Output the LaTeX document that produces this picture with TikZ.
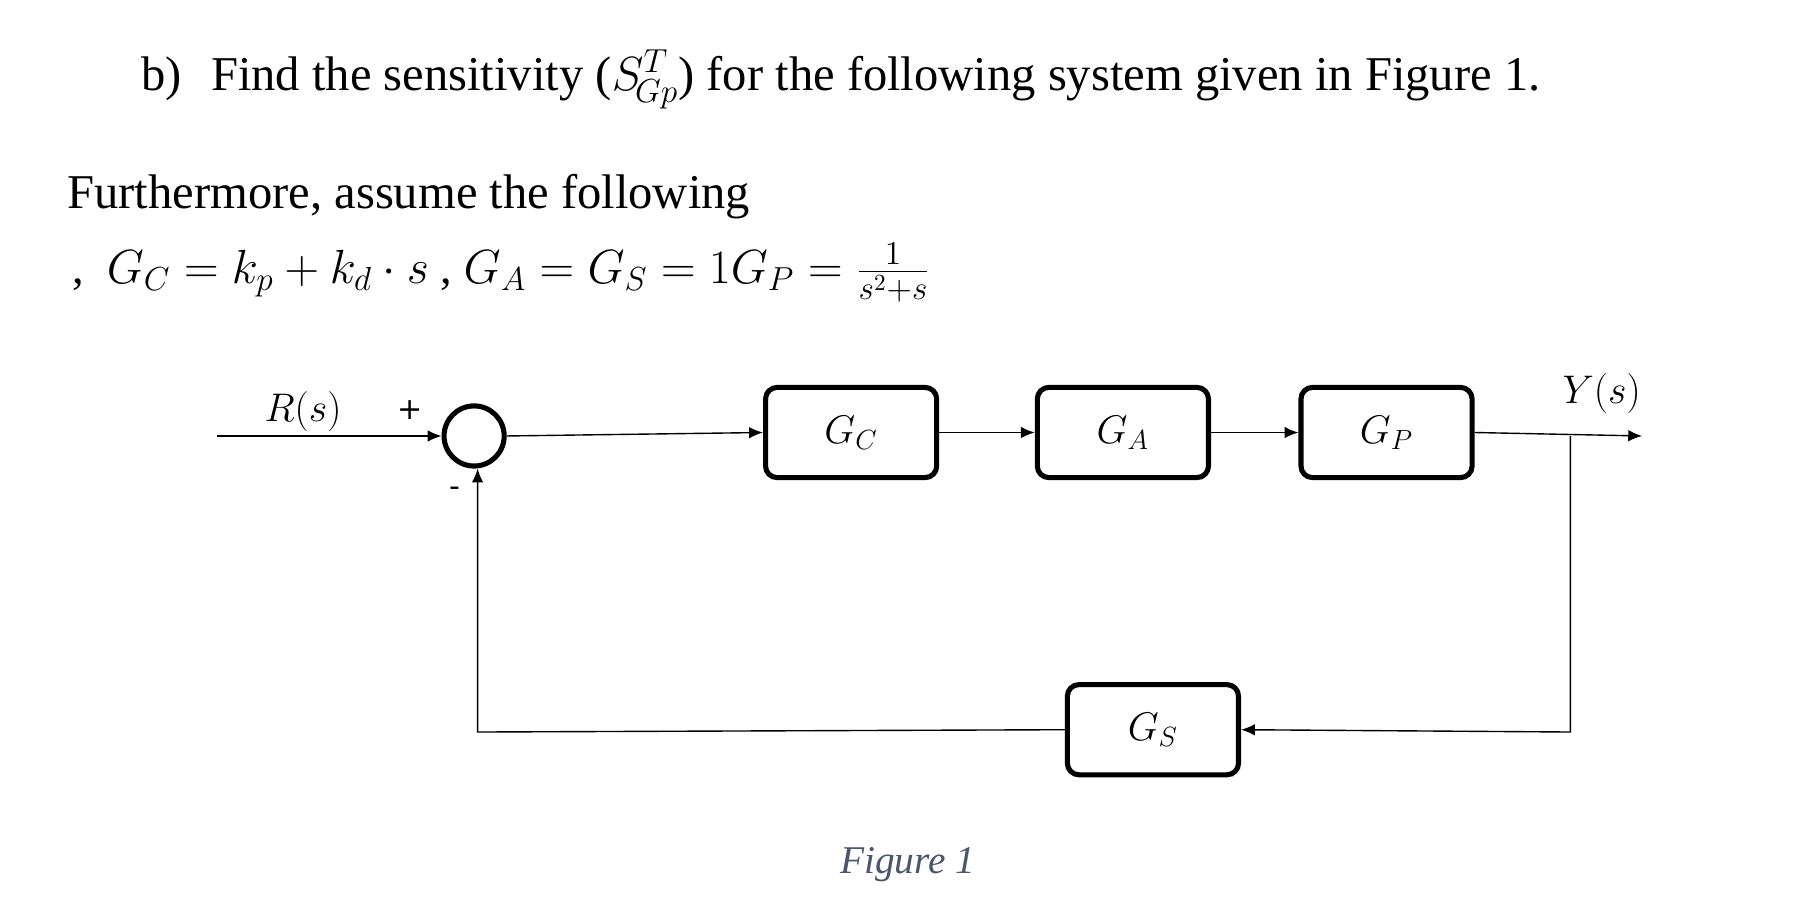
\documentclass[tikz,border=0pt]{standalone}
\usepackage{fontspec}
\setmainfont{Liberation Serif}
\newfontfamily\sansf{DejaVu Sans}
\usetikzlibrary{arrows.meta}
\definecolor{figc}{RGB}{75,85,110}
\begin{document}
\begin{tikzpicture}[x=0.5pt,y=0.5pt,
  blk/.style={draw,line width=2.2pt,rounded corners=5pt,minimum width=74pt,minimum height=39pt,font=\fontsize{18}{20}\selectfont},
  ln/.style={line width=0.6pt},
  arr/.style={ln,-{Latex[length=6pt,width=5pt]}}]
\useasboundingbox (0,0) rectangle (1560,-794);
\node[anchor=base west,font=\fontsize{21}{25}\selectfont,inner sep=0] (t1) at (122,-78) {b)\hspace{0.6em}Find the sensitivity ($S^{T}_{\!Gp}$) for the following system given in Figure 1.};
\node[anchor=base west,font=\fontsize{21}{25}\selectfont,inner sep=0] (t2) at (58,-180) {Furthermore, assume the following};
\node[anchor=base west,font=\fontsize{20}{22}\selectfont,inner sep=0] (t3) at (62,-245) {,\ \ $G_C = k_p + k_d\cdot s$ , $G_A = G_S = 1G_P = {\textstyle\frac{1}{s^2+s}}$};
\node[draw,circle,line width=2.2pt,minimum size=26pt,inner sep=0] (sum) at (410,-377) {};
\node[blk] (gc) at (736,-374) {$G_C$};
\node[blk] (ga) at (971,-374) {$G_A$};
\node[blk] (gp) at (1199,-374) {$G_P$};
\node[blk] (gs) at (997,-631) {$G_S$};
\coordinate (in) at (188,-377);
\coordinate (out) at (1420,-377);
\coordinate (br) at (1358,-377);
\coordinate (c1) at (1358,-633);
\coordinate (c2) at (413,-633);
\node[font=\fontsize{17}{20}\selectfont] (r) at (262,-356) {$R(s)$};
\node[font=\fontsize{17}{20}\selectfont] (y) at (1385,-340) {$Y(s)$};
\node[font=\sansf\fontsize{13}{15}\selectfont] (pl) at (355,-355) {+};
\node[font=\sansf\fontsize{13}{15}\selectfont] (mi) at (393,-425) {-};
\draw[arr] (in) -- (sum.west);
\draw[arr] (sum.east) -- (gc.west);
\draw[arr] (gc.east) -- (ga.west);
\draw[arr] (ga.east) -- (gp.west);
\draw[arr] (gp.east) -- (out);
\draw[arr] (br) -- (c1) -- (gs.east);
\draw[arr] (gs.west) -- (c2) -- (sum.south -| c2);
\node[font=\itshape\fontsize{17}{20}\selectfont,text=figc] (fig) at (785,-748) {Figure 1};
\end{tikzpicture}
\end{document}
